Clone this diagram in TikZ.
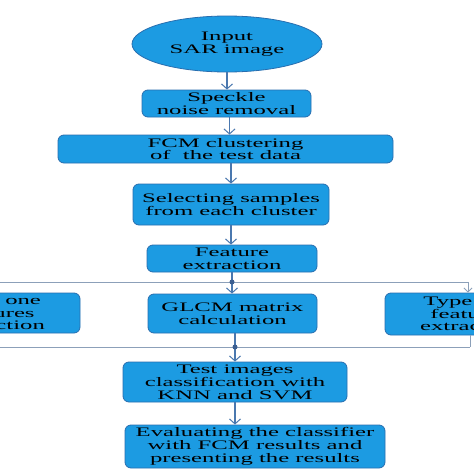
\documentclass[tikz,border=0pt]{standalone}
\usepackage{fontspec}
\newfontfamily\bxfont[FakeStretch=1.9]{Liberation Serif}
\usetikzlibrary{arrows.meta,shapes.geometric}
\definecolor{boxfill}{RGB}{28,155,226}
\definecolor{boxedge}{RGB}{40,110,175}
\definecolor{conn}{RGB}{74,120,175}
\definecolor{frameline}{RGB}{140,160,185}
\definecolor{dotc}{RGB}{60,95,145}
\tikzset{
  blk/.style={draw=boxedge, line width=0.8pt, fill=boxfill, rounded corners=6pt,
    align=center, inner sep=0pt, font=\bxfont\fontsize{13}{12.8}\selectfont, text=black},
  oval/.style={ellipse, draw=boxedge, line width=0.8pt, fill=boxfill,
    align=center, inner sep=0pt, font=\bxfont\fontsize{13}{13}\selectfont, text=black},
  arr/.style={draw=conn, line width=1.3pt, -{Straight Barb[length=5pt,width=11pt,line width=1pt]}},
  plainln/.style={draw=conn, line width=1.3pt},
  frm/.style={draw=frameline, line width=0.9pt},
  frmarr/.style={draw=frameline, line width=0.9pt, -{Straight Barb[length=4pt,width=8pt,line width=0.9pt]}},
  jdot/.style={circle, fill=dotc, inner sep=0pt, minimum size=5pt}
}
\begin{document}
\begin{tikzpicture}[x=1pt,y=-1pt]
\useasboundingbox (0,0) rectangle (474,474);
\clip (0,0) rectangle (474,474);
\fill[white] (0,0) rectangle (474,474);
\node[oval, minimum width=190pt, minimum height=56pt] (inp) at (227,44) {Input\\SAR image};
\node[blk, minimum width=169pt, minimum height=27pt] (spk) at (226.5,103.5) {Speckle\\noise removal};
\node[blk, minimum width=335pt, minimum height=28pt] (fcm) at (225.5,149) {FCM clustering\\of\ \ the test data};
\node[blk, minimum width=196pt, minimum height=41pt] (sel) at (231,204.5) {Selecting samples\\from each cluster};
\node[blk, minimum width=170pt, minimum height=27pt] (fea) at (232,258.5) {Feature\\extraction};
\node[blk, minimum width=169pt, minimum height=40pt] (lft) at (-4.5,313) {Type one\\features\\extraction};
\node[blk, minimum width=169pt, minimum height=39pt] (glc) at (232.5,313.5) {GLCM matrix\\calculation};
\node[blk, minimum width=169pt, minimum height=42pt] (rgt) at (469.5,314) {Type two\\features\\extraction};
\node[blk, minimum width=224pt, minimum height=40pt] (tst) at (235,382) {Test images\\classification with\\KNN and SVM};
\node[blk, minimum width=260pt, minimum height=43pt] (evl) at (255,446.5) {Evaluating the classifier\\with FCM results and\\presenting the results};

\coordinate (jt) at (232,282);
\coordinate (jb) at (235,347);
\coordinate (tl) at (-20,282);
\coordinate (tr) at (468,282);
\coordinate (bl) at (-20,347);
\coordinate (br) at (470,347);

\draw[arr] (inp.south) -- (inp.south |- spk.north);
\draw[arr] (spk.south) ++(3,0) -- ([xshift=3pt]spk.south |- fcm.north);
\draw[arr] (fcm.south -| sel.north) -- (sel.north);
\draw[arr] (sel.south) -- (sel.south |- fea.north);

\draw[frm] (tl) -- (tr);
\draw[frmarr] (tr) -- (tr |- rgt.north);
\draw[frm] (bl) -- (br);
\draw[frm] (br |- rgt.south) -- (br);

\draw[plainln] (fea.south) -- (jt);
\draw[arr] (jt) -- (jt |- glc.north);
\node[jdot] (dt) at (jt) {};

\draw[plainln] (glc.south) ++(2.5,0) -- (jb);
\draw[arr] (jb) -- (jb |- tst.north);
\node[jdot] (db) at (jb) {};

\draw[arr] (tst.south) -- (tst.south |- evl.north);
\end{tikzpicture}
\end{document}
